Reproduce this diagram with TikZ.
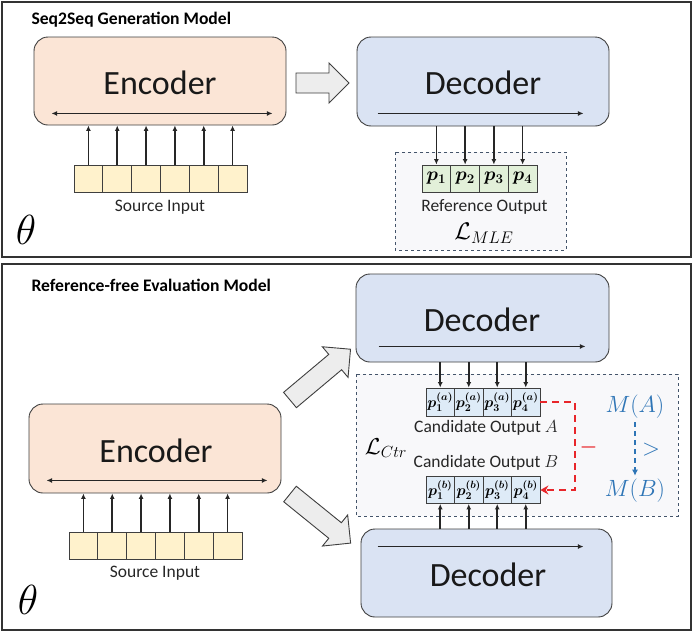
\RequirePackage{fix-cm}
\documentclass[tikz,border=0pt]{standalone}
\usepackage{amsmath,amssymb,bm}
\usepackage{fontspec}
\setmainfont{Carlito}
\usetikzlibrary{arrows.meta,calc}
\definecolor{encfill}{HTML}{FBE5D6}
\definecolor{decfill}{HTML}{DAE3F3}
\definecolor{srcfill}{HTML}{FFF2CC}
\definecolor{grnfill}{HTML}{E2F0D9}
\definecolor{candfill}{HTML}{DEEBF7}
\definecolor{edgec}{HTML}{3F3F3F}
\definecolor{dashcol}{HTML}{44546A}
\definecolor{boxbg}{HTML}{F8F8FA}
\definecolor{redc}{HTML}{E8262A}
\definecolor{bluec}{HTML}{2E75B6}
\definecolor{arrfill}{HTML}{EDEDED}
\newcommand{\blockarr}[4]{%
  \begin{scope}[shift={(#1,#2)}, rotate=#3]
    \draw[blockarrow] (0,-10) -- ({#4-20},-10) -- ({#4-20},-20) -- (#4,0) -- ({#4-20},20) -- ({#4-20},10) -- (0,10) -- cycle;
  \end{scope}}
\tikzset{
  panel/.style={draw=black!80, line width=2pt},
  encbox/.style={draw=edgec, fill=encfill, rounded corners=14pt, line width=0.9pt, inner sep=0pt},
  decbox/.style={draw=edgec, fill=decfill, rounded corners=14pt, line width=0.9pt, inner sep=0pt},
  cellbox/.style={draw=edgec, line width=0.8pt, inner sep=0pt, anchor=center},
  srccell/.style={cellbox, fill=srcfill, minimum width=28.83pt, minimum height=27pt},
  pcell/.style={cellbox, fill=grnfill, minimum width=28.75pt, minimum height=27pt, font=\fontsize{19}{19}\selectfont},
  ccell/.style={cellbox, fill=candfill, minimum width=28.5pt, minimum height=28pt, font=\fontsize{15}{15}\selectfont},
  lossbox/.style={draw=dashcol, dashed, fill=boxbg, line width=0.7pt},
  tok/.style={-{Latex[length=5.5pt,width=5pt]}, line width=1.6pt, draw=black!85},
  inner/.style={line width=1.5pt, draw=black!85},
  bigword/.style={font=\fontsize{34}{34}\selectfont, text=black!90},
  captxt/.style={font=\fontsize{17.5}{18}\selectfont, text=black!85},
  titletxt/.style={font=\bfseries\fontsize{17.6}{19}\selectfont, anchor=west},
  blockarrow/.style={draw=edgec, fill=arrfill, line width=0.9pt, miter limit=10},
  thetatxt/.style={font=\fontsize{42}{42}\selectfont},
  reddash/.style={draw=redc, line width=2pt, dash pattern=on 7pt off 5pt, -{Stealth[length=8pt,width=9pt]}},
  bluedash/.style={draw=bluec, line width=1.6pt, dash pattern=on 5pt off 4pt, -{Latex[length=6pt,width=6pt]}},
  bluetxt/.style={text=bluec, font=\fontsize{23.5}{23.5}\selectfont}
}
\begin{document}
\begin{tikzpicture}[x=1pt,y=-1pt]
\useasboundingbox (0,0) rectangle (693,632);
% ---------------- top panel
\draw[panel] (2,2) rectangle (691,257);
\node[titletxt] (t1) at (28,20) {Seq2Seq Generation Model};
\draw[lossbox] (395,152) rectangle (566,250);
\node[encbox, minimum width=252pt, minimum height=88pt] (enc1) at (160,81) {};
\node[bigword] (enc1t) at (160,83) {Encoder};
\node[decbox, minimum width=252pt, minimum height=89pt] (dec1) at (483,81.5) {};
\node[bigword] (dec1t) at (483,83) {Decoder};
\draw[inner, {Latex[length=5.5pt,width=5pt]}-{Latex[length=5.5pt,width=5pt]}] ($(enc1.south west)+(18,-12)$) -- ($(enc1.south east)+(-14,-12)$);
\draw[inner, -{Latex[length=5.5pt,width=5pt]}] ($(dec1.south west)+(21,-13)$) -- ($(dec1.south east)+(-26,-13)$);
\blockarr{296}{83}{0}{53}
\foreach \i in {1,...,6} {
  \node[srccell] (s\i) at ({74+28.83*(\i-0.5)},178.5) {};
  \draw[tok] (s\i.north) -- (s\i.north |- enc1.south);
}
\foreach \i in {1,...,4} {
  \node[pcell] (p\i) at ({422+28.75*(\i-0.5)},178.5) {$\bm{p_{\i}}$};
  \draw[tok] (p\i.north |- dec1.south) -- (p\i.north);
}
\node[captxt] (srcl1) at (160,207) {Source Input};
\node[captxt] (refl) at (484.5,207) {Reference Output};
\node[font=\fontsize{24}{24}\selectfont, inner sep=1pt] (lmle) at (484,233) {$\mathcal{L}_{MLE}$};
\node[thetatxt] (th1) at (26,230) {$\theta$};
% ---------------- bottom panel
\draw[panel] (2,264) rectangle (691,630);
\node[titletxt] (t2) at (28,285) {Reference-free Evaluation Model};
\draw[lossbox] (356,374) rectangle (678,516);
\node[encbox, minimum width=252pt, minimum height=89pt] (enc2) at (155,448.5) {};
\node[bigword] (enc2t) at (156,451) {Encoder};
\node[decbox, minimum width=253pt, minimum height=88pt] (dec2) at (482.5,318) {};
\node[bigword] (dec2t) at (482,320) {Decoder};
\node[decbox, minimum width=251pt, minimum height=88pt] (dec3) at (486.5,573) {};
\node[bigword] (dec3t) at (488,575) {Decoder};
\draw[inner, {Latex[length=5.5pt,width=5pt]}-{Latex[length=5.5pt,width=5pt]}] ($(enc2.south west)+(18,-13)$) -- ($(enc2.south east)+(-14,-13)$);
\draw[inner, -{Latex[length=5.5pt,width=5pt]}] ($(dec2.south west)+(23,-16)$) -- ($(dec2.south east)+(-24,-16)$);
\draw[inner, -{Latex[length=5.5pt,width=5pt]}] ($(dec3.north west)+(17,18)$) -- ($(dec3.north east)+(-29,18)$);
\blockarr{290}{400}{40}{79}
\blockarr{290}{494}{-39}{78}
\foreach \i in {1,...,6} {
  \node[srccell] (r\i) at ({69+28.83*(\i-0.5)},545.5) {};
  \draw[tok] (r\i.north) -- (r\i.north |- enc2.south);
}
\foreach \i in {1,...,4} {
  \node[ccell] (a\i) at ({426+28.5*(\i-0.5)},402) {$\bm{p}_{\bm{\i}}^{\bm{(a)}}$};
  \draw[tok] (a\i.north |- dec2.south) -- (a\i.north);
  \node[ccell, minimum height=27pt] (b\i) at ({426+28.5*(\i-0.5)},490) {$\bm{p}_{\bm{\i}}^{\bm{(b)}}$};
  \draw[tok] (b\i.south |- dec3.north) -- (b\i.south);
}
\node[captxt] (srcl2) at (155,573) {Source Input};
\node[captxt] (canda) at (486,428) {Candidate Output $A$};
\node[captxt] (candb) at (486,463) {Candidate Output $B$};
\node[font=\fontsize{23}{23}\selectfont] (lctr) at (386,448) {$\mathcal{L}_{Ctr}$};
\node[thetatxt] (th2) at (28,600) {$\theta$};
\coordinate (rc) at (575,447);
\draw[reddash] (a4.east) -| (rc) |- (b4.east);
\node[text=redc, font=\fontsize{20}{20}\selectfont] (minus) at (588.5,447) {$\bm{-}$};
\node[bluetxt] (ma) at (635,407) {$M(A)$};
\node[bluetxt] (mb) at (635,491) {$M(B)$};
\node[bluetxt] (gt) at (651,450) {$>$};
\draw[bluedash] (ma.south) -- (mb.north);
\end{tikzpicture}
\end{document}
